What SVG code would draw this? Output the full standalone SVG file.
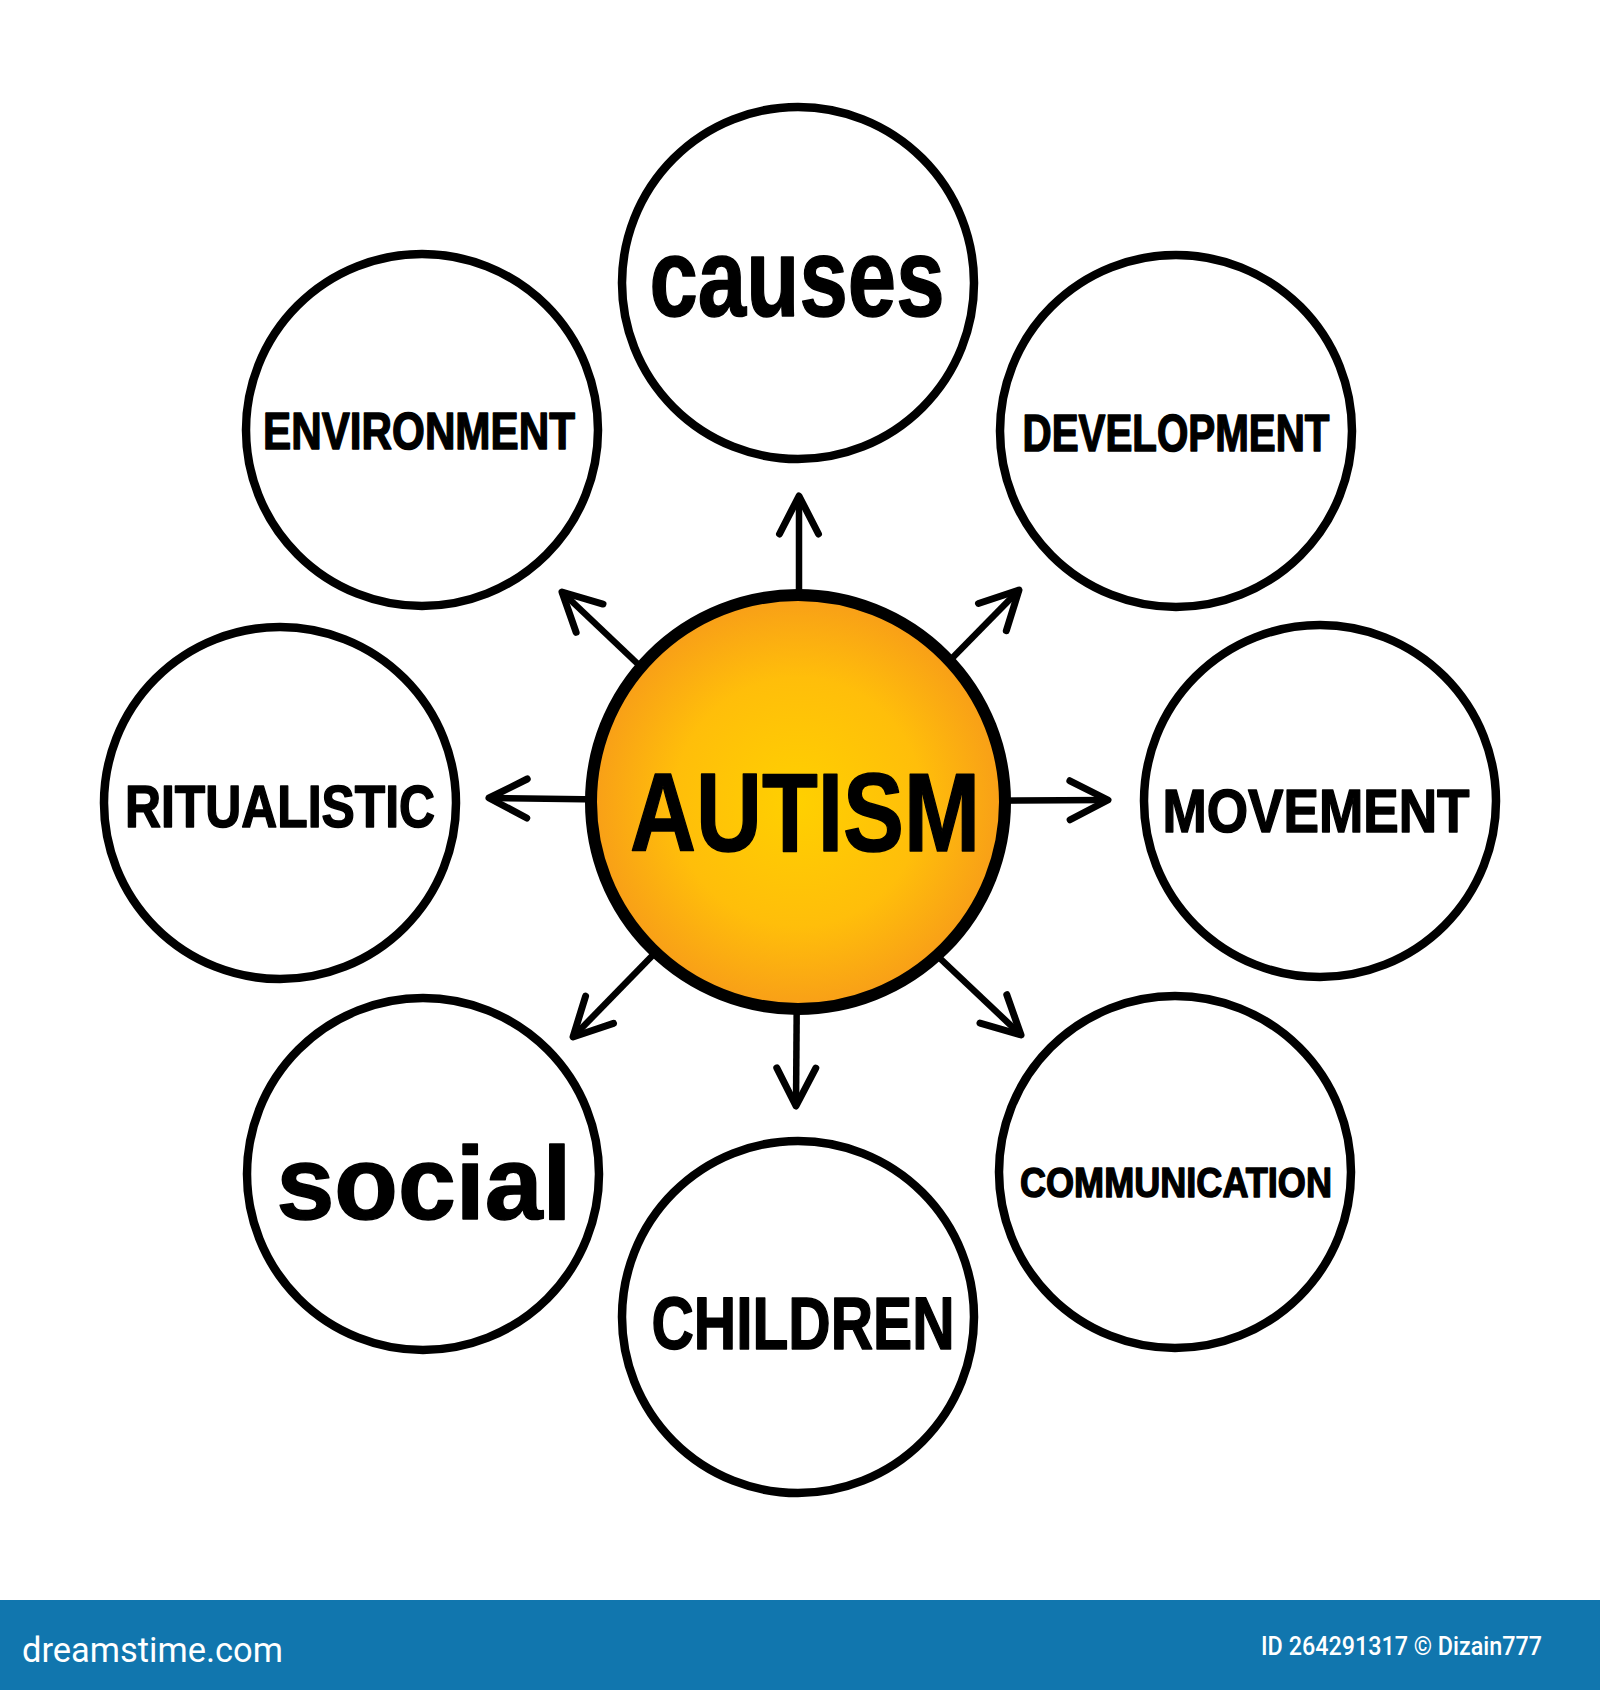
<svg xmlns="http://www.w3.org/2000/svg" width="1600" height="1690" viewBox="0 0 1600 1690">
  <style>
    .node { fill: #ffffff; stroke: #000000; stroke-width: 8.5; }
    .hub { fill: url(#hubGrad); stroke: #000000; stroke-width: 12; }
    .lbl { font-family: "Liberation Sans", Arial, sans-serif; font-weight: bold; fill: #000000; text-anchor: middle; stroke: #000000; stroke-width: 1.5; stroke-linejoin: round; }
    .conn { stroke: #000000; stroke-width: 6.5; fill: none; stroke-linecap: butt; marker-end: url(#chev); }
    .foot { font-family: Roboto, "Liberation Sans", sans-serif; fill: #ffffff; }
  </style>
  <defs>
    <radialGradient id="hubGrad" cx="0.5" cy="0.5" r="0.5">
      <stop offset="0" stop-color="#FFD000"/>
      <stop offset="0.6" stop-color="#FFBE0A"/>
      <stop offset="1" stop-color="#F89E18"/>
    </radialGradient>
    <marker id="chev" markerUnits="userSpaceOnUse" viewBox="-50 -30 60 60" markerWidth="60" markerHeight="60" refX="0" refY="0" orient="auto">
      <path d="M-38,-19.5 L0,0 L-38,19.5" fill="none" stroke="#000000" stroke-width="7" stroke-linecap="round" stroke-linejoin="round"/>
    </marker>
  </defs>
  <rect width="1600" height="1690" fill="#ffffff"/>

  <g id="connectors">
    <line class="conn" x1="799" y1="640" x2="799" y2="496"/>
    <line class="conn" x1="797" y1="970" x2="796" y2="1106"/>
    <line class="conn" x1="640" y1="800" x2="489" y2="798"/>
    <line class="conn" x1="960" y1="801" x2="1108" y2="800"/>
    <line class="conn" x1="680" y1="704" x2="562" y2="592"/>
    <line class="conn" x1="915" y1="696" x2="1019" y2="590"/>
    <line class="conn" x1="690" y1="917" x2="573" y2="1037"/>
    <line class="conn" x1="910" y1="930" x2="1021" y2="1035"/>
  </g>

  <g id="node-autism">
    <circle class="hub" cx="798" cy="802" r="207"/>
    <text class="lbl" x="805" y="851" font-size="112" textLength="350" lengthAdjust="spacingAndGlyphs">AUTISM</text>
  </g>

  <g id="node-causes">
    <circle class="node" cx="798" cy="283" r="176"/>
    <text class="lbl" x="797" y="316" font-size="112" textLength="295" lengthAdjust="spacingAndGlyphs">causes</text>
  </g>

  <g id="node-environment">
    <circle class="node" cx="422" cy="430" r="176"/>
    <text class="lbl" x="419" y="449" font-size="52" textLength="312" lengthAdjust="spacingAndGlyphs">ENVIRONMENT</text>
  </g>

  <g id="node-development">
    <circle class="node" cx="1176" cy="431" r="176"/>
    <text class="lbl" x="1176" y="451" font-size="51" textLength="307" lengthAdjust="spacingAndGlyphs">DEVELOPMENT</text>
  </g>

  <g id="node-ritualistic">
    <circle class="node" cx="280" cy="803" r="176"/>
    <text class="lbl" x="280" y="827" font-size="59" textLength="310" lengthAdjust="spacingAndGlyphs">RITUALISTIC</text>
  </g>

  <g id="node-movement">
    <circle class="node" cx="1320" cy="801" r="176"/>
    <text class="lbl" x="1316" y="832" font-size="62" textLength="307" lengthAdjust="spacingAndGlyphs">MOVEMENT</text>
  </g>

  <g id="node-social">
    <circle class="node" cx="423" cy="1174" r="176"/>
    <text class="lbl" x="424" y="1219" font-size="104" textLength="295" lengthAdjust="spacingAndGlyphs">social</text>
  </g>

  <g id="node-communication">
    <circle class="node" cx="1175" cy="1172" r="176"/>
    <text class="lbl" x="1176" y="1197" font-size="43" textLength="312" lengthAdjust="spacingAndGlyphs">COMMUNICATION</text>
  </g>

  <g id="node-children">
    <circle class="node" cx="798" cy="1317" r="176"/>
    <text class="lbl" x="803" y="1349" font-size="75" textLength="303" lengthAdjust="spacingAndGlyphs">CHILDREN</text>
  </g>

  <g id="footer">
    <rect x="0" y="1600" width="1600" height="90" fill="#1176AE"/>
    <text class="foot" x="22" y="1662" font-size="35" textLength="261" lengthAdjust="spacingAndGlyphs">dreamstime.com</text>
    <text class="foot" x="1261" y="1655" font-size="25" font-weight="500" textLength="281" lengthAdjust="spacingAndGlyphs">ID 264291317 © Dizain777</text>
  </g>
</svg>
